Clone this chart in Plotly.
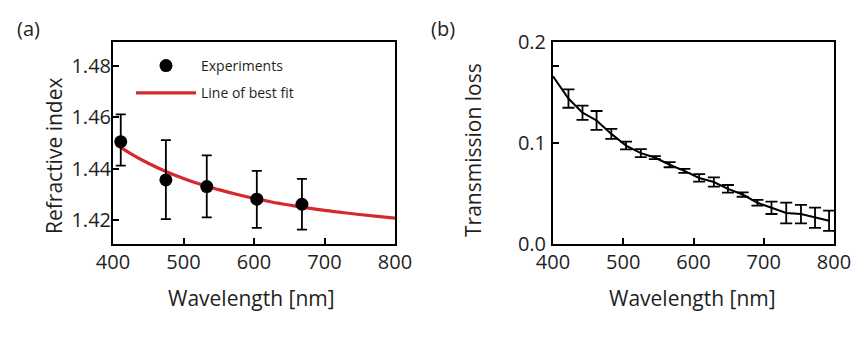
import plotly.graph_objects as go

# ---------- Panel (a) data ----------
exp_wl = [411, 475, 533, 604, 668]
exp_n = [1.4505, 1.4356, 1.4330, 1.4281, 1.4261]
exp_err_plus = [0.0107, 0.0155, 0.0122, 0.0110, 0.0099]
exp_err_minus = [0.0093, 0.0153, 0.0120, 0.0112, 0.0099]

fit_wl = [405, 425, 450, 475, 500, 525, 550, 575, 600, 625, 650, 675, 700, 725, 750, 775, 800]
fit_n = [1.4494, 1.4459, 1.4421, 1.4389, 1.4362, 1.4338, 1.4318, 1.4300, 1.4284,
         1.4270, 1.4258, 1.4247, 1.4237, 1.4229, 1.4221, 1.4214, 1.4207]

# ---------- Panel (b) data ----------
loss_wl = [422, 442, 462, 483, 504, 525, 545, 566, 587, 608, 629, 649, 670, 691, 711, 732, 753, 773, 793]
loss_val = [0.144, 0.130, 0.1223, 0.109, 0.0975, 0.090, 0.0856, 0.0785, 0.0724, 0.0654,
            0.0614, 0.0546, 0.049, 0.0408, 0.0358, 0.0307, 0.0296, 0.026, 0.023]
loss_err = [0.0091, 0.0071, 0.0094, 0.0050, 0.0038, 0.0039, 0.0015, 0.0025, 0.0019, 0.0037,
            0.0046, 0.0038, 0.0022, 0.0028, 0.0061, 0.0102, 0.0091, 0.0100, 0.0101]
line_wl = [400] + loss_wl
line_val = [0.166] + loss_val

W, H = 861, 342
FONT = "Open Sans"
TXT = "#1f1f1f"
RED = "#d7282e"

fig = go.Figure()

fig.add_trace(go.Scatter(
    x=fit_wl, y=fit_n, mode="lines", name="Line of best fit",
    line=dict(color=RED, width=3.2, shape="spline"),
    xaxis="x", yaxis="y", legendgroup="b", legendrank=2))
fig.add_trace(go.Scatter(
    x=exp_wl, y=exp_n, mode="markers", name="Experiments",
    marker=dict(color="black", size=13),
    error_y=dict(type="data", symmetric=False, array=exp_err_plus, arrayminus=exp_err_minus,
                 color="black", thickness=1.8, width=5),
    xaxis="x", yaxis="y", legendgroup="a", legendrank=1))

fig.add_trace(go.Scatter(
    x=line_wl, y=line_val, mode="lines", showlegend=False,
    line=dict(color="black", width=2),
    xaxis="x2", yaxis="y2"))
fig.add_trace(go.Scatter(
    x=loss_wl, y=loss_val, mode="markers", showlegend=False,
    marker=dict(size=1, color="rgba(0,0,0,0)"),
    error_y=dict(type="data", array=loss_err, color="black", thickness=1.8, width=6),
    xaxis="x2", yaxis="y2"))

axis_common = dict(showgrid=False, zeroline=False, showline=True, linecolor="black",
                   linewidth=2, mirror=True, ticks="inside", ticklen=6, tickwidth=1.5,
                   tickcolor="black", automargin=False,
                   tickfont=dict(family=FONT, size=20, color=TXT))

def ann(text, x, y, size=21, angle=0):
    return dict(text=text, x=x / W, y=1 - y / H, xref="paper", yref="paper",
                xanchor="center", yanchor="middle", showarrow=False, textangle=angle,
                font=dict(family=FONT, size=size, color=TXT))

fig.update_layout(
    width=W, height=H,
    margin=dict(l=0, r=0, t=0, b=0, autoexpand=False),
    paper_bgcolor="white", plot_bgcolor="white",
    font=dict(family=FONT, color=TXT),
    xaxis=dict(domain=[113 / W, 395 / W], range=[400, 800],
               tickvals=[400, 500, 600, 700, 800], anchor="y", ticklabelstandoff=-1, **axis_common),
    yaxis=dict(domain=[1 - 244 / H, 1 - 42 / H], range=[1.4106, 1.4894],
               tickvals=[1.42, 1.44, 1.46, 1.48], ticktext=["1.42", "1.44", "1.46", "1.48"],
               anchor="x", ticklabelstandoff=-4, **axis_common),
    xaxis2=dict(domain=[553 / W, 834 / W], range=[400, 800],
                tickvals=[400, 500, 600, 700, 800], anchor="y2", ticklabelstandoff=-1, **axis_common),
    yaxis2=dict(domain=[1 - 244 / H, 1 - 42 / H], range=[0, 0.2],
                tickvals=[0, 0.1, 0.176, 0.2], ticktext=["0.0", "0.1", "", "0.2"],
                anchor="x2", ticklabelstandoff=1, **axis_common),
    showlegend=True,
    legend=dict(x=131 / W, y=1 - 50 / H, xanchor="left", yanchor="top",
                bgcolor="rgba(0,0,0,0)", font=dict(family=FONT, size=14, color=TXT),
                traceorder="grouped", tracegroupgap=6, itemwidth=60),
    annotations=[
        ann("(a)", 28, 29, 20),
        ann("(b)", 443, 29, 20),
        ann("Wavelength [nm]", 252, 298),
        ann("Wavelength [nm]", 692, 298),
        ann("Refractive index", 54, 156, angle=-90),
        ann("Transmission loss", 473, 150, angle=-90),
    ],
)

fig.write_html("out.html")
